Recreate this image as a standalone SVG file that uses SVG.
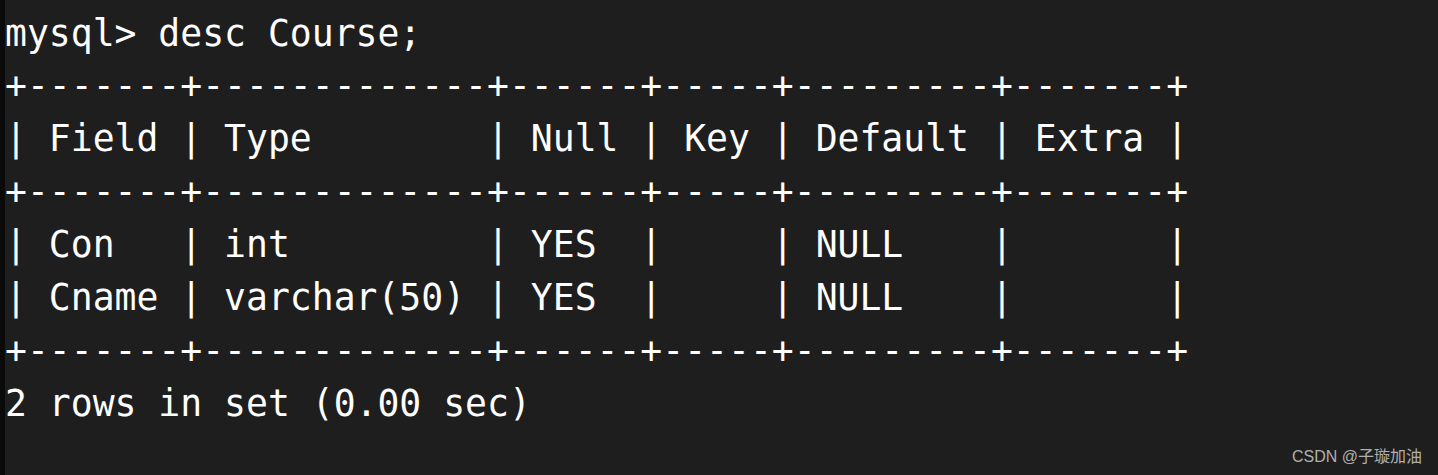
<svg xmlns="http://www.w3.org/2000/svg" width="1438" height="475" viewBox="0 0 1438 475">
<style>
.t{font-family:"DejaVu Sans Mono",monospace;font-size:36.4px;fill:#ffffff;white-space:pre}
.w{font-family:"Liberation Sans","Noto Sans CJK SC",sans-serif;font-size:16px;fill:#b0b0b0}
</style>
<rect width="1438" height="475" fill="#1e1e1e"/>
<rect width="5" height="475" fill="#0a0a0a"/>
<g id="terminal" xml:space="preserve">
<text class="t" x="5" y="46">mysql&gt; desc Course;</text>
<text class="t" x="5" y="98">+-------+-------------+------+-----+---------+-------+</text>
<text class="t" x="5" y="151">| Field | Type        | Null | Key | Default | Extra |</text>
<text class="t" x="5" y="204">+-------+-------------+------+-----+---------+-------+</text>
<text class="t" x="5" y="257">| Con   | int         | YES  |     | NULL    |       |</text>
<text class="t" x="5" y="310">| Cname | varchar(50) | YES  |     | NULL    |       |</text>
<text class="t" x="5" y="363">+-------+-------------+------+-----+---------+-------+</text>
<text class="t" x="5" y="416">2 rows in set (0.00 sec)</text>
</g>
<text class="w" x="1422" y="462" text-anchor="end">CSDN @子璇加油</text>
</svg>
